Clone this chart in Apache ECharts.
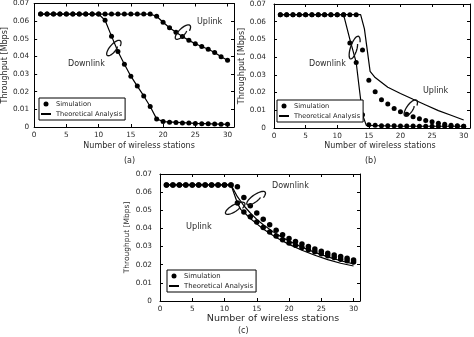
<!DOCTYPE html>
<html><head><meta charset="utf-8">
<script src="https://cdn.jsdelivr.net/npm/echarts@6/dist/echarts.min.js"></script>
<style>html,body{margin:0;padding:0;background:#fff}#c{width:474px;height:337px}</style>
</head><body><div id="c"></div>
<script>
// ---------- data ----------
const stations = [1,2,3,4,5,6,7,8,9,10,11,12,13,14,15,16,17,18,19,20,21,22,23,24,25,26,27,28,29,30];
const xTicks = [0,5,10,15,20,25,30];
const yTicks = [0,0.01,0.02,0.03,0.04,0.05,0.06,0.07];

// (a)
const simDownA = [0.064,0.064,0.064,0.064,0.064,0.064,0.064,0.064,0.064,0.064,0.0605,0.0515,0.0428,0.0356,0.0288,0.0232,0.0176,0.0116,0.0046,0.0031,0.0027,0.0025,0.0023,0.0022,0.0020,0.0019,0.0018,0.0017,0.0016,0.0015];
const simUpA   = [0.064,0.064,0.064,0.064,0.064,0.064,0.064,0.064,0.064,0.064,0.064,0.064,0.064,0.064,0.064,0.064,0.064,0.064,0.0628,0.0594,0.0563,0.0537,0.0513,0.0491,0.0472,0.0456,0.0441,0.0422,0.0398,0.0378];
const thDownAx = [1,10,11,12,13,14,15,16,17,18,19,20,25,30];
const thDownAy = [0.064,0.064,0.0605,0.0515,0.0428,0.0356,0.0288,0.0232,0.0176,0.0116,0.0046,0.0031,0.0020,0.0015];
const thUpAx = [1,18,19,20,21,22,23,24,25,26,27,28,29,30];
const thUpAy = [0.064,0.064,0.0628,0.0594,0.0563,0.0537,0.0513,0.0491,0.0472,0.0456,0.0441,0.0422,0.0398,0.0378];

// (b)
const simDownB = [0.064,0.064,0.064,0.064,0.064,0.064,0.064,0.064,0.064,0.064,0.064,0.048,0.037,0.0075,0.0018,0.0015,0.0013,0.0012,0.0012,0.0011,0.0011,0.0011,0.0010,0.0010,0.0010,0.0010,0.0010,0.0010,0.0010,0.0010];
const simUpB   = [0.064,0.064,0.064,0.064,0.064,0.064,0.064,0.064,0.064,0.064,0.064,0.064,0.064,0.044,0.027,0.0205,0.016,0.0135,0.011,0.0092,0.0078,0.0063,0.0052,0.0043,0.0035,0.0027,0.0021,0.0016,0.0012,0.0010];
const thDownBx = [1,11,12,13,13.5,14,14.6,20,25,30];
const thDownBy = [0.064,0.064,0.050,0.037,0.022,0.0075,0.0015,0.0010,0.0010,0.0010];
const thUpBx = [1,13.7,14.3,15.2,16,18,20,22,24,26,28,30];
const thUpBy = [0.064,0.064,0.056,0.032,0.0285,0.023,0.0195,0.0162,0.013,0.0098,0.0072,0.0045];

// (c)
const simDownC = [0.064,0.064,0.064,0.064,0.064,0.064,0.064,0.064,0.064,0.064,0.064,0.063,0.057,0.0525,0.0485,0.045,0.042,0.039,0.0365,0.0345,0.0328,0.0314,0.030,0.0287,0.0274,0.0263,0.0254,0.0245,0.0235,0.0226];
const simUpC   = [0.064,0.064,0.064,0.064,0.064,0.064,0.064,0.064,0.064,0.064,0.064,0.054,0.049,0.0465,0.0435,0.0405,0.038,0.0358,0.0338,0.032,0.0307,0.0295,0.0283,0.0272,0.026,0.025,0.024,0.023,0.0222,0.0215];
const thDownCx = [1,11,12,13,14,15,16,18,20,22,24,26,28,30];
const thDownCy = [0.064,0.064,0.0575,0.0525,0.0485,0.045,0.042,0.037,0.033,0.0297,0.0268,0.0243,0.0222,0.0205];
const thUpCx = [1,11,12,12.5,13,14,15,16,18,20,22,24,26,28,30];
const thUpCy = [0.064,0.064,0.054,0.0505,0.049,0.0455,0.0425,0.0397,0.035,0.0312,0.028,0.0252,0.0228,0.0208,0.0193];

// ---------- layout ----------
const FONT = 'DejaVu Sans';
const TXT = '#2a2a2a';
const grids = [
  {left:33, top:2, width:201, height:125},
  {left:274, top:4, width:196, height:124},
  {left:160, top:174, width:200, height:127}
];
const xNameCfg = [
  {gap:15, size:8, pad:10},
  {gap:14, size:8, pad:16},
  {gap:13, size:9.5, pad:26}
];
const yNameCfg = [
  {gap:23, size:8},
  {gap:27, size:8},
  {gap:29, size:7.5}
];
const yLabelMargin = [5, 8, 8];

const zip = (xs, ys) => xs.map((x, i) => [x, ys[i]]);

const xAxes = [], yAxes = [];
grids.forEach((g, i) => {
  xAxes.push({
    type:'value', gridIndex:i, min:0, max:31, interval:5, position:'bottom',
    axisLine:{onZero:false, lineStyle:{color:'#000', width:1}},
    axisTick:{inside:true, length:3, lineStyle:{color:'#000'}},
    axisLabel:{fontSize:7.3, fontFamily:FONT, color:TXT, margin:5, showMaxLabel:false,
      formatter: v => xTicks.includes(v) ? String(v) : ''},
    splitLine:{show:false},
    name:'Number of wireless stations', nameLocation:'middle', nameGap:xNameCfg[i].gap,
    nameTextStyle:{fontSize:xNameCfg[i].size, fontFamily:FONT, color:TXT, padding:[0,0,0,xNameCfg[i].pad]}
  });
  yAxes.push({
    type:'value', gridIndex:i, min:0, max:0.07, interval:0.01, position:'left',
    axisLine:{onZero:false, lineStyle:{color:'#000', width:1}},
    axisTick:{inside:true, length:3, lineStyle:{color:'#000'}},
    axisLabel:{fontSize:7.3, fontFamily:FONT, color:TXT, margin:yLabelMargin[i],
      formatter: v => { const t = yTicks.find(k => Math.abs(k - v) < 1e-9); return t === undefined ? '' : String(t); }},
    splitLine:{show:false},
    name:'Throughput [Mbps]', nameLocation:'middle', nameGap:yNameCfg[i].gap,
    nameTextStyle:{fontSize:yNameCfg[i].size, fontFamily:FONT, color:TXT}
  });
});
grids.forEach((g, i) => {
  xAxes.push({
    type:'value', gridIndex:i, min:0, max:31, interval:5, position:'top',
    axisLine:{onZero:false, lineStyle:{color:'#000', width:1}},
    axisTick:{inside:true, length:3, lineStyle:{color:'#000'}},
    axisLabel:{show:false}, splitLine:{show:false}
  });
  yAxes.push({
    type:'value', gridIndex:i, min:0, max:0.07, interval:0.01, position:'right',
    axisLine:{onZero:false, lineStyle:{color:'#000', width:1}},
    axisTick:{inside:true, length:3, lineStyle:{color:'#000'}},
    axisLabel:{show:false}, splitLine:{show:false}
  });
});

const panels = [
  {simDown:simDownA, simUp:simUpA, thD:zip(thDownAx,thDownAy), thU:zip(thUpAx,thUpAy), sym:5},
  {simDown:simDownB, simUp:simUpB, thD:zip(thDownBx,thDownBy), thU:zip(thUpBx,thUpBy), sym:5},
  {simDown:simDownC, simUp:simUpC, thD:zip(thDownCx,thDownCy), thU:zip(thUpCx,thUpCy), sym:5.5}
];
const series = [];
panels.forEach((p, i) => {
  [p.thD, p.thU].forEach(d => series.push({
    type:'line', name:'Theoretical Analysis', xAxisIndex:i, yAxisIndex:i, data:d,
    symbol:'none', showSymbol:false, lineStyle:{color:'#000', width:1.2}, itemStyle:{color:'#000'}, z:2
  }));
  [p.simDown, p.simUp].forEach(v => series.push({
    type:'scatter', name:'Simulation', xAxisIndex:i, yAxisIndex:i, data:zip(stations, v),
    symbol:'circle', symbolSize:p.sym, itemStyle:{color:'#000', opacity:1}, z:3
  }));
});

const legendPos = [
  {left:39, top:98, fs:6.6},
  {left:277, top:100, fs:6.6},
  {left:167, top:270, fs:6.9}
];
const legends = legendPos.map(l => ({
  data:[{name:'Simulation', icon:'circle'}, {name:'Theoretical Analysis', icon:'path://M0,0H10V2H0Z'}],
  orient:'vertical', left:l.left, top:l.top, itemWidth:10, itemHeight:5, itemGap:2,
  padding:[2,3,2,2], borderColor:'#000', borderWidth:1, backgroundColor:'#fff',
  selectedMode:false,
  textStyle:{fontSize:l.fs, fontFamily:FONT, color:'#222', lineHeight:8}
}));

// annotation loop glyphs (decorative)
function loopPts(cx, cy, a, b, rotDeg) {
  const th = rotDeg * Math.PI / 180, pts = [];
  const N = 48;
  for (let k = 0; k <= N; k++) {
    const t = 0.25 * Math.PI + k / N * 2.05 * Math.PI;
    const g = 0.75 + 0.55 * k / N;
    const x = a * g * Math.cos(t), y = b * g * Math.sin(t);
    pts.push([cx + x * Math.cos(th) - y * Math.sin(th), cy + x * Math.sin(th) + y * Math.cos(th)]);
  }
  return pts;
}
const glyphs = [
  [113, 49, 9, 3.5, -50], [182, 33, 9, 3.5, -45],
  [354, 49, 11, 3.5, -72], [410, 109, 9, 3.5, -55],
  [234, 209, 10, 3.5, -30], [255, 199, 10, 3.5, -35]
];
const labels = [
  ['Downlink', 68, 64, 8], ['Uplink', 197, 22, 8],
  ['Downlink', 309, 64, 8], ['Uplink', 423, 91, 8],
  ['Downlink', 272, 186, 8], ['Uplink', 186, 227, 8.2],
  ['(a)', 124, 161, 8], ['(b)', 365, 161, 8], ['(c)', 238, 331, 8]
];
const graphic = [];
glyphs.forEach(g => graphic.push({
  type:'polyline', shape:{points:loopPts(...g)}, style:{stroke:'#111', lineWidth:1.3, fill:null}, z:10
}));
labels.forEach(l => graphic.push({
  type:'text', x:l[1], y:l[2], style:{text:l[0], fontSize:l[3], fontFamily:FONT, fill:TXT, align:'left', verticalAlign:'middle'}, z:10
}));

const chart = echarts.init(document.getElementById('c'), null, {renderer:'canvas'});
chart.setOption({
  animation:false,
  backgroundColor:'#fff',
  grid: grids.map(g => Object.assign({containLabel:false}, g)),
  xAxis: xAxes, yAxis: yAxes,
  legend: legends,
  series: series,
  graphic: graphic
});
</script></body></html>
